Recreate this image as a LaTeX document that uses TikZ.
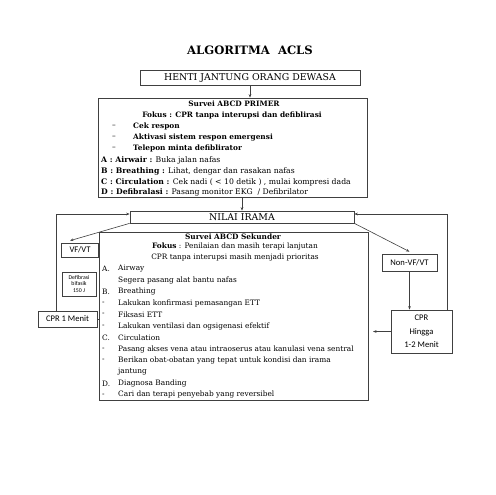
\documentclass[tikz,border=0pt]{standalone}
\usepackage{fontspec}
\setmainfont{DejaVu Serif}
\newfontfamily\boxfont{Carlito}
\usetikzlibrary{positioning,arrows.meta}

\begin{document}
\begin{tikzpicture}[x=1pt,y=-1pt,
    box/.style={draw=black!75,line width=0.7pt,inner sep=0pt},
    conn/.style={draw=black!75,line width=0.6pt},
    arr/.style={conn,-{Stealth[length=3.5pt,width=2.6pt]}},
    txt/.style={inner sep=0pt,anchor=west,font=\fontsize{7.4}{8}\selectfont},
    head/.style={inner sep=0pt,font=\bfseries\fontsize{7.4}{8}\selectfont},
    small/.style={box,align=center,font=\boxfont\fontsize{8.6}{9}\selectfont}]
    \useasboundingbox (0,0) rectangle (495,495);
    \fill[white] (0,0) rectangle (495,495);
    % title and first box
    \node[font=\bfseries\fontsize{11.6}{12}\selectfont] (title) at (250,50) {ALGORITMA\ \ ACLS};
    \node[box,minimum width=220pt,minimum height=15pt,font=\fontsize{9.4}{10}\selectfont] (henti) at (250,78) {HENTI JANTUNG ORANG DEWASA};
    % survei primer
    \node[box,minimum width=269pt,minimum height=99pt] (primer) at (232.5,147.5) {};
    \node[head] (phead) at (234,104) {Survei ABCD PRIMER};
    \node[head] (pfokus) at (232,115.5) {Fokus : CPR tanpa interupsi dan defiblirasi};
    \foreach \txt [count=\i] in {Cek respon,Aktivasi sistem respon emergensi,Telepon minta defiblirator}{
        \node[txt] (pdash\i) at (112,115.5+11*\i) {\textendash};
        \node[txt,font=\bfseries\fontsize{7.4}{8}\selectfont] (pitem\i) at (133,115.5+11*\i) {\txt};
    }
    \node[txt,font=\fontsize{7.7}{8}\selectfont] (pa) at (101,160) {\textbf{A : Airwair :} Buka jalan nafas};
    \node[txt,font=\fontsize{7.7}{8}\selectfont] (pb) at (101,171) {\textbf{B : Breathing :} Lihat, dengar dan rasakan nafas};
    \node[txt,font=\fontsize{7.7}{8}\selectfont] (pc) at (101,182) {\textbf{C : Circulation :} Cek nadi ( < 10 detik ) , mulai kompresi dada};
    \node[txt,font=\fontsize{7.7}{8}\selectfont] (pd) at (101,192) {\textbf{D : Defibralasi :} Pasang monitor EKG\ \ / Defibrilator};
    % nilai irama
    \node[box,minimum width=224pt,minimum height=12pt,font=\fontsize{9.4}{10}\selectfont] (nilai) at (242,217) {NILAI IRAMA};
    % survei sekunder
    \node[box,minimum width=269pt,minimum height=168pt] (sekunder) at (233.5,316) {};
    \node[head] (shead) at (233,237) {Survei ABCD Sekunder};
    \node[inner sep=0pt,font=\fontsize{7.4}{8}\selectfont] (sfokus) at (235,247) {\textbf{Fokus} : Penilaian dan masih terapi lanjutan};
    \node[inner sep=0pt,font=\fontsize{7.4}{8}\selectfont] (scpr) at (235,258) {CPR tanpa interupsi masih menjadi prioritas};
    \foreach \mk/\txt [count=\i] in {A./Airway,/Segera pasang alat bantu nafas,B./Breathing,
        -/Lakukan konfirmasi pemasangan ETT,-/Fiksasi ETT,-/Lakukan ventilasi dan ogsigenasi efektif,
        C./Circulation,-/Pasang akses vena atau intraoserus atau kanulasi vena sentral,
        -/Berikan obat-obatan yang tepat untuk kondisi dan irama,/jantung,
        D./Diagnosa Banding,-/Cari dan terapi penyebab yang reversibel}{
        \node[txt] (smark\i) at (102,257.5+11.45*\i) {\mk};
        \node[txt] (sitem\i) at (118,257.5+11.45*\i) {\txt};
    }
    % side boxes
    \node[small,minimum width=37pt,minimum height=14pt] (vfvt) at (80,250) {VF/VT};
    \node[small,minimum width=34pt,minimum height=24pt,font=\boxfont\fontsize{5.8}{6.8}\selectfont] (defib) at (79,284) {Defibrasi\\bifasik\\150 J};
    \node[small,minimum width=59pt,minimum height=16pt] (cprsatu) at (67.5,319) {CPR 1 Menit};
    \node[small,minimum width=55pt,minimum height=17pt] (nonvf) at (409.5,262.5) {Non-VF/VT};
    \node[small,minimum width=61pt,minimum height=43pt,font=\boxfont\fontsize{8.6}{13.5}\selectfont] (cprdua) at (421.5,331.5) {CPR\\Hingga\\1-2 Menit};
    % connectors
    \coordinate (lcorner) at (56,214);
    \coordinate (rcorner) at (447,214);
    \coordinate (cprtip) at (373,331.5);
    \draw[arr] (henti.south) -- (henti.south |- primer.north);
    \draw[arr] (nilai.north |- primer.south) -- (nilai.north);
    \draw[arr] (lcorner |- cprsatu.north) -- (lcorner) -- (lcorner -| nilai.west);
    \draw[arr] (rcorner |- cprdua.north) -- (rcorner) -- (rcorner -| nilai.east);
    \draw[arr] (nilai.south west) -- ([xshift=-10pt,yshift=2pt]vfvt.north);
    \draw[arr] (nilai.south east) -- ([yshift=2pt]nonvf.north);
    \draw[arr] (nonvf.south) -- (nonvf.south |- cprdua.north);
    \draw[arr] (cprdua.west) -- (cprtip);
    \draw[conn] (cprsatu.east) -- (sekunder.west |- cprsatu.east);
\end{tikzpicture}
\end{document}
